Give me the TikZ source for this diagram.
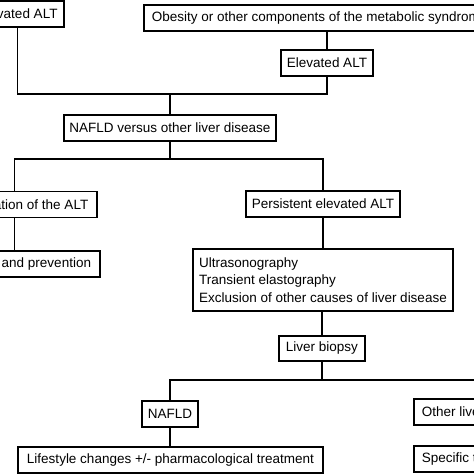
\documentclass[tikz,border=0pt]{standalone}
\usepackage{fontspec}
\setmainfont{Liberation Sans}
\begin{document}
\begin{tikzpicture}[x=1pt,y=-1pt,
  box/.style={draw=black,line width=1.8pt,inner sep=0pt,font=\fontsize{13.5}{17.7}\selectfont,text=black,anchor=center},
  wire/.style={draw=black,line width=1.8pt}]
\useasboundingbox (0,0) rectangle (474,474);
\clip (0,0) rectangle (474,474);
\fill[white] (0,0) rectangle (474,474);
% top row
\node[box,minimum width=93pt,minimum height=26pt] (tl) at (17.5,14) {Elevated ALT};
\node[box,minimum height=26pt,inner xsep=8pt,anchor=west] (obes) at (143,18) {Obesity or other components of the metabolic syndrome};
\node[box,minimum width=92pt,minimum height=26pt] (elev) at (327,63) {Elevated ALT};
\node[box,minimum width=212pt,minimum height=26pt] (nv) at (170,128) {NAFLD versus other liver disease};
\coordinate (j1) at (170,94);
\coordinate (j2) at (170,159);
% second level
\node[box,minimum width=165pt,minimum height=26pt] (norm) at (14.5,204.5) {Normalization of the ALT};
\node[box,minimum width=171pt,minimum height=26pt] (edu) at (14.5,264) {Education and prevention};
\node[box,minimum width=154pt,minimum height=26pt] (pers) at (323,204) {Persistent elevated ALT};
\node[box,minimum height=62pt,minimum width=260pt,align=left] (us) at (323,280) {Ultrasonography\\Transient elastography\\Exclusion of other causes of liver disease};
\node[box,minimum width=86pt,minimum height=25pt] (lb) at (322,348.5) {Liver biopsy};
\coordinate (j3) at (322,380);
\node[box,minimum width=56pt,minimum height=26pt] (nafld) at (170,414) {NAFLD};
\node[box,minimum width=305pt,minimum height=26pt] (life) at (170.5,460) {Lifestyle changes +/- pharmacological treatment};
\node[box,minimum height=26pt,inner xsep=8pt,anchor=west] (other) at (413,412) {Other liver disease};
\node[box,minimum height=26pt,inner xsep=8pt,anchor=west] (spec) at (413,459) {Specific treatment};
% connectors
\draw[wire] (elev.north) -- (elev.north |- obes.south);
\draw[wire] (tl.south) |- (j1);
\draw[wire] (elev.south) |- (j1);
\draw[wire] (j1) -- (nv.north);
\draw[wire] (nv.south) -- (j2);
\draw[wire] (j2) -| (norm.north);
\draw[wire] (j2) -| (pers.north);
\draw[wire] (norm.south) -- (edu.north);
\draw[wire] (pers.south) -- (us.north -| pers.south);
\draw[wire] (us.south -| lb.north) -- (lb.north);
\draw[wire] (lb.south) -- (j3);
\draw[wire] (j3) -| (nafld.north);
\draw[wire] (j3) -| (other.north);
\draw[wire] (nafld.south) -- (life.north -| nafld.south);
\draw[wire] (other.south) -- (spec.north);
\end{tikzpicture}
\end{document}
